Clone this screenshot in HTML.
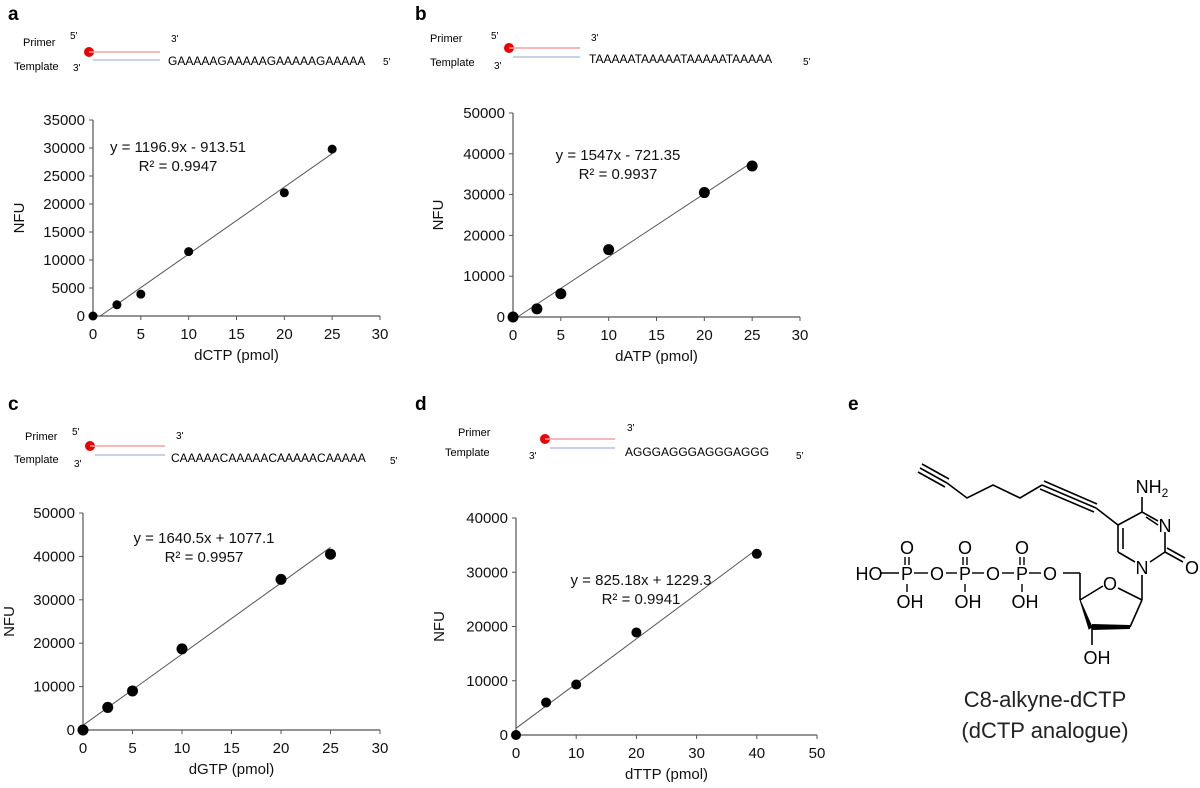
<!DOCTYPE html>
<html><head><meta charset="utf-8"><style>
body{margin:0;background:#fff}
svg{display:block;font-family:"Liberation Sans",Arial,sans-serif}
</style></head><body>
<svg id="fig" width="1200" height="788" viewBox="0 0 1200 788" xmlns="http://www.w3.org/2000/svg">
<g font-weight="bold" font-size="19">
<text x="8" y="20">a</text><text x="415" y="20">b</text><text x="8" y="410">c</text><text x="415" y="410">d</text><text x="848" y="410">e</text>
</g>
<g font-size="11">
<text x="23" y="46">Primer</text><text x="70" y="39" font-size="10">5'</text><text x="171" y="42" font-size="10">3'</text>
<circle cx="89" cy="52" r="5" fill="#e00"/><line x1="89" y1="52" x2="160" y2="52" stroke="#f4a0a0" stroke-width="1.5"/>
<text x="14" y="70">Template</text><text x="73" y="71" font-size="10">3'</text><line x1="93" y1="60" x2="160" y2="60" stroke="#a8b8d8" stroke-width="1.3"/>
<text x="168" y="65" font-size="12">GAAAAAGAAAAAGAAAAAGAAAAA</text><text x="383" y="65" font-size="10">5'</text>
</g>
<g font-size="11">
<text x="430" y="42">Primer</text><text x="491" y="39" font-size="10">5'</text><text x="591" y="41" font-size="10">3'</text>
<circle cx="509" cy="48" r="5" fill="#e00"/><line x1="509" y1="48" x2="580" y2="48" stroke="#f4a0a0" stroke-width="1.5"/>
<text x="430" y="66">Template</text><text x="494" y="69" font-size="10">3'</text><line x1="513" y1="57" x2="580" y2="57" stroke="#a8b8d8" stroke-width="1.3"/>
<text x="589" y="63" font-size="12">TAAAAATAAAAATAAAAATAAAAA</text><text x="803" y="65" font-size="10">5'</text>
</g>
<g font-size="11">
<text x="25" y="440">Primer</text><text x="72" y="435" font-size="10">5'</text><text x="176" y="439" font-size="10">3'</text>
<circle cx="90" cy="446" r="5" fill="#e00"/><line x1="90" y1="446" x2="165" y2="446" stroke="#f4a0a0" stroke-width="1.5"/>
<text x="14" y="463">Template</text><text x="74" y="467" font-size="10">3'</text><line x1="95" y1="455" x2="165" y2="455" stroke="#a8b8d8" stroke-width="1.3"/>
<text x="171" y="462" font-size="12">CAAAAACAAAAACAAAAACAAAAA</text><text x="390" y="464" font-size="10">5'</text>
</g>
<g font-size="11">
<text x="458" y="436">Primer</text><text x="627" y="431" font-size="10">3'</text>
<circle cx="545" cy="439" r="5" fill="#e00"/><line x1="545" y1="439" x2="615" y2="439" stroke="#f4a0a0" stroke-width="1.5"/>
<text x="445" y="456">Template</text><text x="529" y="459" font-size="10">3'</text><line x1="550" y1="448" x2="615" y2="448" stroke="#a8b8d8" stroke-width="1.3"/>
<text x="625" y="456" font-size="12">AGGGAGGGAGGGAGGG</text><text x="796" y="459" font-size="10">5'</text>
</g>
<g id="charts"></g>
<g stroke="#000" stroke-width="1.6" fill="none">
<line x1="920" y1="468" x2="947" y2="483"/><line x1="922" y1="464" x2="949" y2="479"/><line x1="918" y1="472" x2="945" y2="487"/>
<polyline points="947,483 967,498 993,485 1020,498 1042,485"/>
<line x1="1042" y1="485" x2="1096" y2="508"/><line x1="1044" y1="481" x2="1097" y2="504"/><line x1="1040" y1="489" x2="1094" y2="512"/>
<line x1="1096" y1="508" x2="1118" y2="525"/>
<polyline points="1118,525 1142,512 1158,521"/><line x1="1146" y1="517" x2="1158" y2="525"/>
<line x1="1165" y1="532" x2="1165" y2="552"/><line x1="1165" y1="552" x2="1150" y2="562"/>
<line x1="1165" y1="552" x2="1183" y2="562"/><line x1="1167" y1="548" x2="1185" y2="558"/>
<line x1="1135" y1="562" x2="1118" y2="552"/><polyline points="1118,552 1118,525"/><line x1="1123" y1="549" x2="1123" y2="528"/>
<line x1="1142" y1="512" x2="1142" y2="497"/>
<line x1="1142" y1="575" x2="1142" y2="600"/>
<line x1="1142" y1="600" x2="1118" y2="588"/><line x1="1103" y1="586" x2="1080" y2="600"/>
<line x1="1080" y1="600" x2="1080" y2="573"/><line x1="1080" y1="573" x2="1063" y2="573"/>
<line x1="1142" y1="600" x2="1130" y2="627"/><line x1="1130" y1="627" x2="1092" y2="627"/>
<polygon points="1080,600 1092,627 1089,629" fill="#000" stroke-width="1"/>
<polygon points="1092,624 1130,625 1130,629 1092,630" fill="#000" stroke-width="0"/>
<line x1="1092" y1="627" x2="1092" y2="645"/>
</g>
<g font-size="18" fill="#000" text-anchor="middle">
<text x="1152" y="493">NH<tspan font-size="12" dy="4">2</tspan></text>
<text x="1165" y="532">N</text><text x="1142" y="574">N</text><text x="1192" y="574">O</text>
<text x="1110" y="590">O</text><text x="1097" y="664">OH</text>
<text x="869" y="580">HO</text>
<text x="907" y="580">P</text><text x="937" y="580">O</text><text x="965" y="580">P</text><text x="993" y="580">O</text><text x="1022" y="580">P</text><text x="1050" y="580">O</text>
<text x="907" y="554">O</text><text x="965" y="554">O</text><text x="1022" y="554">O</text>
<text x="910" y="608">OH</text><text x="968" y="608">OH</text><text x="1025" y="608">OH</text>
</g>
<g stroke="#000" stroke-width="1.4">
<line x1="905" y1="557" x2="905" y2="565"/><line x1="909" y1="557" x2="909" y2="565"/>
<line x1="963" y1="557" x2="963" y2="565"/><line x1="967" y1="557" x2="967" y2="565"/>
<line x1="1020" y1="557" x2="1020" y2="565"/><line x1="1024" y1="557" x2="1024" y2="565"/>
<line x1="907" y1="584" x2="907" y2="592"/><line x1="965" y1="584" x2="965" y2="592"/><line x1="1022" y1="584" x2="1022" y2="592"/>
<line x1="881" y1="573" x2="899" y2="573"/><line x1="914" y1="573" x2="928" y2="573"/><line x1="946" y1="573" x2="957" y2="573"/>
<line x1="972" y1="573" x2="984" y2="573"/><line x1="1002" y1="573" x2="1014" y2="573"/><line x1="1029" y1="573" x2="1041" y2="573"/>
</g>
<g font-size="22" text-anchor="middle" fill="#222">
<text x="1045" y="707">C8-alkyne-dCTP</text><text x="1045" y="738">(dCTP analogue)</text>
</g>
</svg>
<script>
const aX=[0,2.5,5,10,20,25], aY=[0,2000,3900,11500,22000,29800];
const bX=[0,2.5,5,10,20,25], bY=[0,2000,5700,16500,30500,37000];
const cX=[0,2.5,5,10,20,25], cY=[0,5200,9000,18700,34700,40500];
const dX=[0,5,10,20,40], dY=[0,6000,9300,18900,33400];
const xTicksA=[0,5,10,15,20,25,30], yTicksA=[0,5000,10000,15000,20000,25000,30000,35000];
const xTicksB=[0,5,10,15,20,25,30], yTicksB=[0,10000,20000,30000,40000,50000];
const xTicksC=[0,5,10,15,20,25,30], yTicksC=[0,10000,20000,30000,40000,50000];
const xTicksD=[0,10,20,30,40,50], yTicksD=[0,10000,20000,30000,40000];
const fitA=[1196.9,-913.51], fitB=[1547,-721.35], fitC=[1640.5,1077.1], fitD=[825.18,1229.3];
const eqA=["y = 1196.9x - 913.51","R² = 0.9947"], eqB=["y = 1547x - 721.35","R² = 0.9937"];
const eqC=["y = 1640.5x + 1077.1","R² = 0.9957"], eqD=["y = 825.18x + 1229.3","R² = 0.9941"];
const NS="http://www.w3.org/2000/svg";
const root=document.getElementById('charts');
function mk(t,a,p){const e=document.createElementNS(NS,t);for(const k in a)e.setAttribute(k,a[k]);(p||root).appendChild(e);return e;}
function chart(id,o,xs,ys,xt,yt,fit,eq,xlab){
 const g=mk('g',{});
 
 
 const xmax=xt[xt.length-1], ymax=yt[yt.length-1];
 const X=v=>o.x0+(v/xmax)*(o.x1-o.x0), Y=v=>o.y0-(v/ymax)*(o.y0-o.y1);
 const ax=mk('path',{d:`M${o.x0},${o.y1}V${o.y0}H${o.x1}`,stroke:'#555',fill:'none','stroke-width':1.2},g);
 
 
 yt.forEach(v=>{mk('line',{x1:o.x0-4,x2:o.x0,y1:Y(v),y2:Y(v),stroke:'#555'},g);
  const t=mk('text',{x:o.x0-8,y:Y(v)+5,'text-anchor':'end','font-size':15,fill:'#111'},g);t.textContent=v;
  
  });
 xt.forEach(v=>{mk('line',{x1:X(v),x2:X(v),y1:o.y0,y2:o.y0+4,stroke:'#555'},g);
  const t=mk('text',{x:X(v),y:o.y0+23,'text-anchor':'middle','font-size':15,fill:'#111'},g);t.textContent=v;
  
  });
 let xa=Math.max(xs[0],(0-fit[1])/fit[0]); const xb=xs[xs.length-1];
 const fl=mk('line',{x1:X(xa),y1:Y(fit[0]*xa+fit[1]),x2:X(xb),y2:Y(fit[0]*xb+fit[1]),stroke:'#555','stroke-width':1},g);
 
 
 xs.forEach((v,i)=>{const c=mk('circle',{cx:X(v),cy:Y(ys[i]),r:o.r,fill:'#000'},g);
  
  });
 const t1=mk('text',{x:o.ex,y:o.ey,'font-size':15,'text-anchor':'middle',fill:'#111'},g);t1.textContent=eq[0];
 
 
 const t2=mk('text',{x:o.ex,y:o.ey+19,'font-size':15,'text-anchor':'middle',fill:'#111'},g);t2.textContent=eq[1];
 
 
 const xl=mk('text',{x:(o.x0+o.x1)/2,y:o.y0+44,'font-size':15,'text-anchor':'middle',fill:'#111'},g);xl.textContent=xlab;
 
 
 const yl=mk('text',{x:0,y:0,'font-size':15,'text-anchor':'middle',fill:'#111',transform:`translate(${o.yl},${(o.y0+o.y1)/2}) rotate(-90)`},g);yl.textContent='NFU';
 
 
}
chart('chart-a',{x0:93,x1:380,y0:316,y1:120,r:4.5,ex:178,ey:152,yl:24},aX,aY,xTicksA,yTicksA,fitA,eqA,'dCTP (pmol)');
chart('chart-b',{x0:513,x1:800,y0:317,y1:113,r:5.5,ex:618,ey:160,yl:443},bX,bY,xTicksB,yTicksB,fitB,eqB,'dATP (pmol)');
chart('chart-c',{x0:83,x1:380,y0:730,y1:513,r:5.5,ex:204,ey:543,yl:14},cX,cY,xTicksC,yTicksC,fitC,eqC,'dGTP (pmol)');
chart('chart-d',{x0:516,x1:817,y0:735,y1:518,r:5,ex:641,ey:585,yl:444},dX,dY,xTicksD,yTicksD,fitD,eqD,'dTTP (pmol)');
</script>
</body></html>
